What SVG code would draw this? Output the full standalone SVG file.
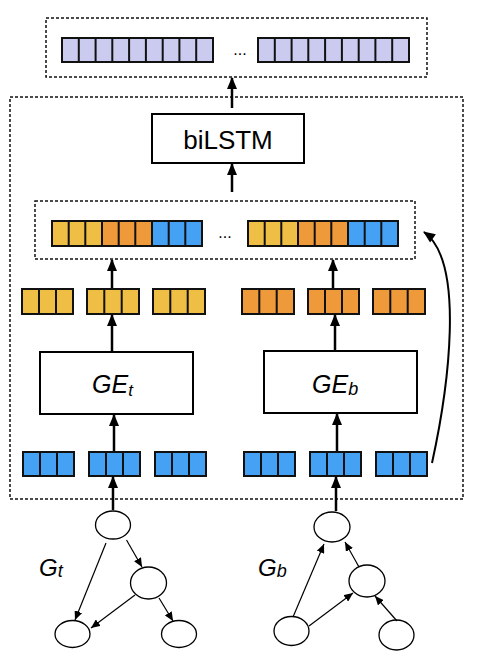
<svg xmlns="http://www.w3.org/2000/svg" width="478" height="666" viewBox="0 0 478 666">
<defs>
<style>
.dash{fill:none;stroke:#111;stroke-width:1.5;stroke-dasharray:3 2}
.box{fill:#fff;stroke:#000;stroke-width:2}
.cell{stroke:#111;stroke-width:2}
.pur{fill:#CBCBF0}
.yel{fill:#EFBF45}
.org{fill:#EF9A3A}
.blu{fill:#45A1F4}
.arr{stroke:#000;stroke-width:2.5;fill:none;marker-end:url(#ah)}
.garr{stroke:#000;stroke-width:1.2;fill:none;marker-end:url(#sh)}
.node{fill:#fff;stroke:#000;stroke-width:1.3}
.lbl{font-family:"Liberation Sans",Arial,sans-serif;fill:#000}
</style>
<marker id="ah" markerWidth="10" markerHeight="10" viewBox="0 0 10 10" refX="9" refY="5" orient="auto" markerUnits="userSpaceOnUse" overflow="visible">
<path d="M-2,0 L10,5 L-2,10 Z" fill="#000"/>
</marker>
<marker id="sh" markerWidth="9" markerHeight="8" viewBox="0 0 9 8" refX="9" refY="4" orient="auto" markerUnits="userSpaceOnUse">
<path d="M0,0 L9,4 L0,8 Z" fill="#000"/>
</marker>
</defs>

<g id="output-box">
<rect class="dash" x="46" y="18" width="381" height="59"/>
<g id="out-vec-1">
<rect class="cell pur" x="62" y="38" width="151" height="24"/>
<path d="M78.8,38V62M95.6,38V62M112.3,38V62M129.1,38V62M145.9,38V62M162.7,38V62M179.4,38V62M196.2,38V62" stroke="#111" stroke-width="2"/>
</g>
<text class="lbl" x="240" y="55" font-size="16" text-anchor="middle">...</text>
<g id="out-vec-2">
<rect class="cell pur" x="258" y="38" width="151" height="24"/>
<path d="M274.8,38V62M291.6,38V62M308.3,38V62M325.1,38V62M341.9,38V62M358.7,38V62M375.4,38V62M392.2,38V62" stroke="#111" stroke-width="2"/>
</g>
</g>

<g id="encoder-box">
<rect class="dash" x="10" y="97" width="453" height="402"/>
</g>

<g id="bilstm">
<rect class="box" x="152" y="114" width="152" height="49"/>
<text class="lbl" x="228" y="149" font-size="26" text-anchor="middle">biLSTM</text>
</g>

<g id="concat">
<rect class="dash" x="35" y="201" width="380" height="58"/>
<g id="concat-1">
<rect class="yel" x="52" y="221" width="50" height="25"/>
<rect class="org" x="102" y="221" width="50" height="25"/>
<rect class="blu" x="152" y="221" width="50" height="25"/>
<rect x="52" y="221" width="150" height="25" fill="none" stroke="#111" stroke-width="2"/>
<path d="M68.7,221V246M85.3,221V246M102,221V246M118.7,221V246M135.3,221V246M152,221V246M168.7,221V246M185.3,221V246" stroke="#111" stroke-width="2"/>
</g>
<text class="lbl" x="225" y="238" font-size="16" text-anchor="middle">...</text>
<g id="concat-2">
<rect class="yel" x="248" y="221" width="50" height="25"/>
<rect class="org" x="298" y="221" width="50" height="25"/>
<rect class="blu" x="348" y="221" width="50" height="25"/>
<rect x="248" y="221" width="150" height="25" fill="none" stroke="#111" stroke-width="2"/>
<path d="M264.7,221V246M281.3,221V246M298,221V246M314.7,221V246M331.3,221V246M348,221V246M364.7,221V246M381.3,221V246" stroke="#111" stroke-width="2"/>
</g>
</g>

<g id="yellow-vecs">
<g><rect class="cell yel" x="22" y="289" width="51" height="25"/><path d="M39,289V314M56,289V314" stroke="#111" stroke-width="2"/></g>
<g><rect class="cell yel" x="87" y="289" width="52" height="25"/><path d="M104.3,289V314M121.7,289V314" stroke="#111" stroke-width="2"/></g>
<g><rect class="cell yel" x="153" y="289" width="52" height="25"/><path d="M170.3,289V314M187.7,289V314" stroke="#111" stroke-width="2"/></g>
</g>
<g id="orange-vecs">
<g><rect class="cell org" x="242" y="289" width="52" height="25"/><path d="M259.3,289V314M276.7,289V314" stroke="#111" stroke-width="2"/></g>
<g><rect class="cell org" x="308" y="289" width="51" height="25"/><path d="M325,289V314M342,289V314" stroke="#111" stroke-width="2"/></g>
<g><rect class="cell org" x="373" y="289" width="52" height="25"/><path d="M390.3,289V314M407.7,289V314" stroke="#111" stroke-width="2"/></g>
</g>

<g id="ge-t">
<rect class="box" x="40" y="352" width="153" height="62"/>
<text class="lbl" x="92" y="393" font-size="25" font-style="italic">GE<tspan font-size="17" dy="3">t</tspan></text>
</g>
<g id="ge-b">
<rect class="box" x="264" y="351" width="153" height="62" stroke-width="1.5"/>
<text class="lbl" x="312" y="393" font-size="25" font-style="italic">GE<tspan font-size="18" dy="2">b</tspan></text>
</g>

<g id="blue-vecs-t">
<g><rect class="cell blu" x="23" y="452" width="51" height="24"/><path d="M40,452V476M57,452V476" stroke="#111" stroke-width="2"/></g>
<g><rect class="cell blu" x="89" y="452" width="51" height="24"/><path d="M106,452V476M123,452V476" stroke="#111" stroke-width="2"/></g>
<g><rect class="cell blu" x="155" y="452" width="51" height="24"/><path d="M172,452V476M189,452V476" stroke="#111" stroke-width="2"/></g>
</g>
<g id="blue-vecs-b">
<g><rect class="cell blu" x="244" y="452" width="51" height="24"/><path d="M261,452V476M278,452V476" stroke="#111" stroke-width="2"/></g>
<g><rect class="cell blu" x="310" y="452" width="51" height="24"/><path d="M327,452V476M344,452V476" stroke="#111" stroke-width="2"/></g>
<g><rect class="cell blu" x="376" y="452" width="51" height="24"/><path d="M393,452V476M410,452V476" stroke="#111" stroke-width="2"/></g>
</g>

<g id="graph-t">
<text class="lbl" x="39" y="576" font-size="24" font-style="italic">G<tspan font-size="18" dy="1">t</tspan></text>
<ellipse id="gt-n1" class="node" cx="113" cy="525" rx="17.5" ry="14"/>
<ellipse id="gt-n2" class="node" cx="148.5" cy="583" rx="18" ry="16"/>
<ellipse id="gt-n3" class="node" cx="72.5" cy="634" rx="17.5" ry="13.5"/>
<ellipse id="gt-n4" class="node" cx="179" cy="634" rx="17.5" ry="13.5"/>
</g>
<g id="graph-b">
<text class="lbl" x="258" y="576" font-size="24" font-style="italic">G<tspan font-size="18" dy="1">b</tspan></text>
<ellipse id="gb-n1" class="node" cx="332" cy="527" rx="18" ry="15"/>
<ellipse id="gb-n2" class="node" cx="367" cy="581" rx="18" ry="16"/>
<ellipse id="gb-n3" class="node" cx="291.5" cy="631" rx="17.5" ry="14.5"/>
<ellipse id="gb-n4" class="node" cx="396.5" cy="635" rx="17.5" ry="15"/>
</g>

<g id="connectors">
<line class="arr" x1="232" y1="108" x2="232" y2="78"/>
<line class="arr" x1="232" y1="192" x2="232" y2="164"/>
<line class="arr" x1="112" y1="288" x2="112" y2="260"/>
<line class="arr" x1="333" y1="288" x2="333" y2="260"/>
<line class="arr" x1="112" y1="351" x2="112" y2="315"/>
<line class="arr" x1="335" y1="350" x2="335" y2="315"/>
<line class="arr" x1="114" y1="451" x2="114" y2="415"/>
<line class="arr" x1="337" y1="451" x2="337" y2="414"/>
<line class="arr" x1="113" y1="510" x2="113" y2="477"/>
<line class="arr" x1="336" y1="511" x2="336" y2="477"/>
<path d="M432,463 C448,390 466,262 424,232" stroke="#000" stroke-width="2" fill="none" marker-end="url(#ah)"/>
<line class="garr" x1="106" y1="543" x2="75" y2="620"/>
<line class="garr" x1="126.5" y1="540" x2="142" y2="567"/>
<line class="garr" x1="135" y1="595" x2="91" y2="628"/>
<line class="garr" x1="159" y1="598" x2="173" y2="621"/>
<line class="garr" x1="293" y1="617" x2="324" y2="544"/>
<line class="garr" x1="309" y1="626" x2="353" y2="593"/>
<line class="garr" x1="359" y1="567" x2="345" y2="542"/>
<line class="garr" x1="397" y1="621" x2="375" y2="596"/>
</g>
</svg>
